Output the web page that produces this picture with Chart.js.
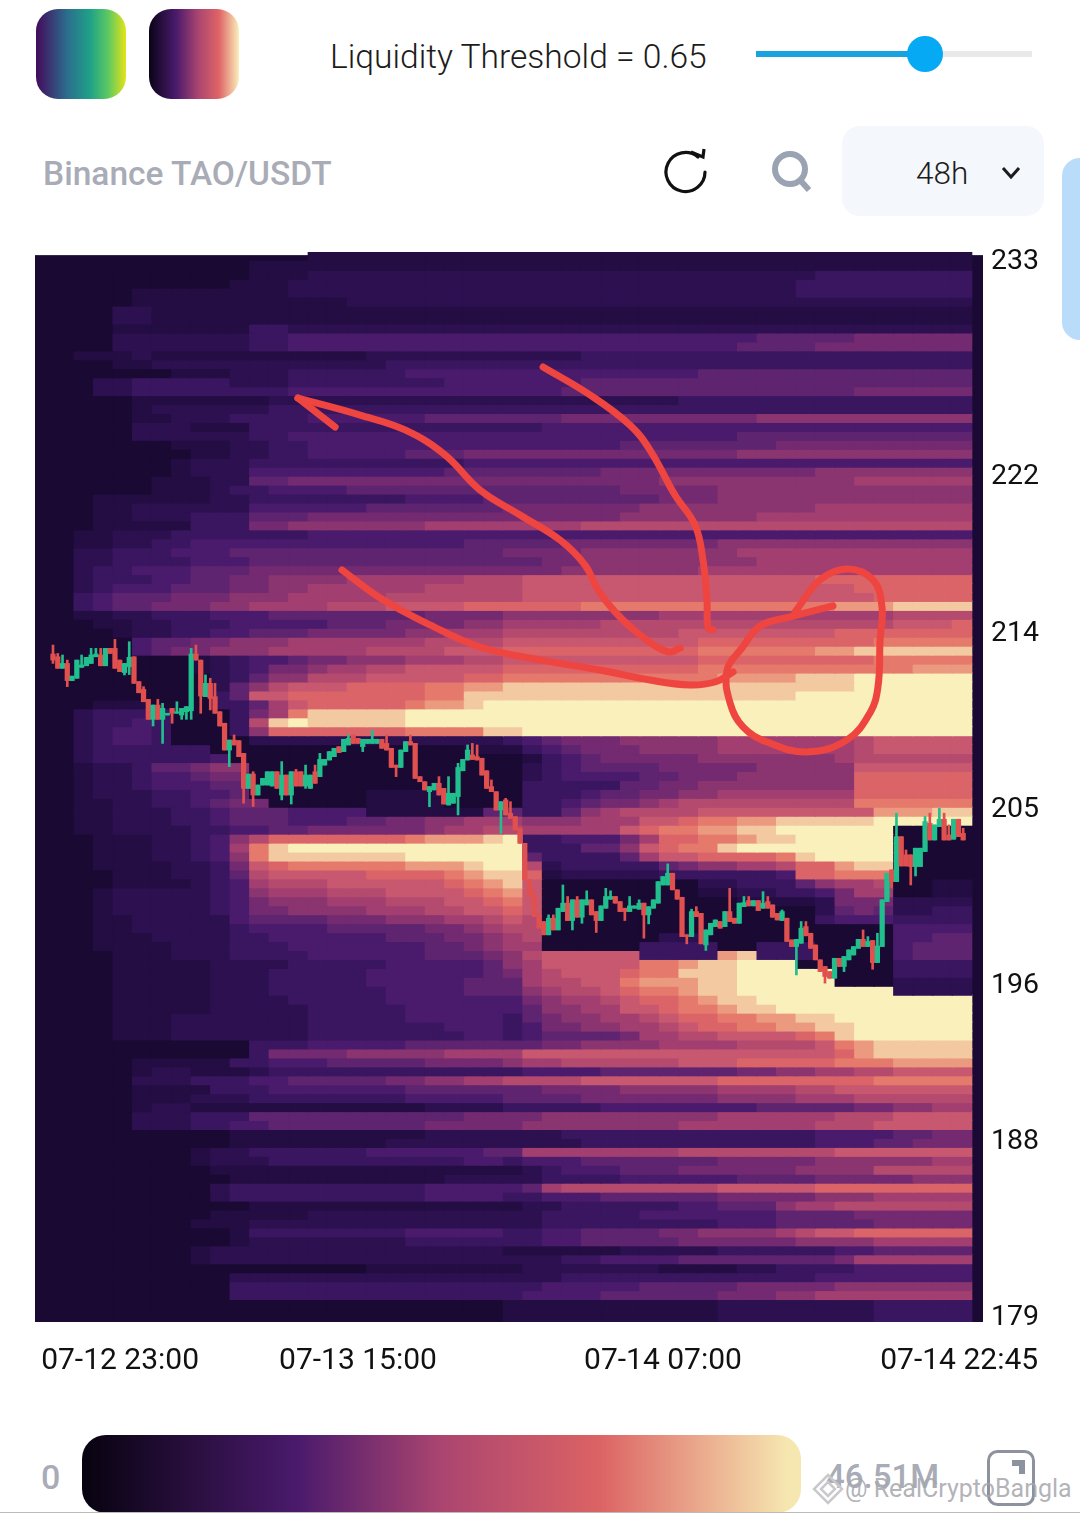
<!DOCTYPE html>
<html><head><meta charset="utf-8">
<script src="https://cdn.jsdelivr.net/npm/chart.js@4/dist/chart.umd.min.js"></script>
<style>
html,body{margin:0;padding:0;background:#fff;width:1080px;height:1513px;overflow:hidden;font-family:Roboto,sans-serif}
.a{position:absolute}
#wrap{position:absolute;left:0;top:240px;width:1080px;height:1160px}
</style></head><body>
<div class="a" style="left:36px;top:9px;width:90px;height:90px;border-radius:22px;background:linear-gradient(90deg,#440a5c,#2b6f8e 35%,#1fa187 60%,#5cc863 80%,#e3e418)"></div>
<div class="a" style="left:149px;top:9px;width:90px;height:90px;border-radius:22px;background:linear-gradient(90deg,#0a0418,#4a1a6c 30%,#ab4570 55%,#e06466 78%,#f9efba)"></div>
<div class="a" style="left:330px;top:37px;font-size:33.6px;line-height:40px;font-weight:300;color:#1c1c1c;white-space:nowrap">Liquidity Threshold = 0.65</div>
<div class="a" style="left:756px;top:51px;width:276px;height:6px;background:#e9e9e9"></div>
<div class="a" style="left:756px;top:51px;width:170px;height:6px;background:#18a3e0"></div>
<div class="a" style="left:907px;top:36px;width:36px;height:36px;border-radius:50%;background:#06a9f4"></div>
<div class="a" style="left:43px;top:154px;font-size:33.5px;line-height:40px;font-weight:500;color:#a9acb6;white-space:nowrap">Binance TAO/USDT</div>
<svg class="a" style="left:660px;top:146px" width="52" height="52" viewBox="0 0 52 52"><path d="M38 11 A19.5 19.5 0 1 0 45 26" fill="none" stroke="#111" stroke-width="3.2" stroke-linecap="round"/><path d="M31 6 L43 11 L44 3" fill="none" stroke="#111" stroke-width="3.2"/></svg>
<svg class="a" style="left:768px;top:148px" width="48" height="48" viewBox="0 0 48 48"><circle cx="22" cy="21" r="15" fill="none" stroke="#9aa3b2" stroke-width="6"/><path d="M32 32 L41 42" stroke="#9aa3b2" stroke-width="6"/></svg>
<div class="a" style="left:842px;top:126px;width:202px;height:90px;border-radius:18px;background:#f4f7fb"></div>
<div class="a" style="left:916px;top:154px;font-size:31.5px;line-height:40px;font-weight:300;color:#1c1c1c">48h</div>
<svg class="a" style="left:1000px;top:165px" width="22" height="16" viewBox="0 0 22 16"><path d="M3 3 L11 12 L19 3" fill="none" stroke="#1c1c1c" stroke-width="3"/></svg>
<div class="a" style="left:1062px;top:158px;width:18px;height:182px;border-radius:18px 0 0 18px;background:#b9dcfb"></div>
<div id="wrap"><canvas id="c" width="1080" height="1160" style="width:1080px;height:1160px"></canvas></div>
<div class="a" style="left:41px;top:1457px;font-size:34px;line-height:40px;font-weight:500;color:#a9acb6">0</div>
<div class="a" style="left:82px;top:1435px;width:719px;height:78px;border-radius:24px;background:linear-gradient(90deg,#07030f,#4a1a6c 30%,#ab4570 50%,#dc6364 72%,#f6e6b0 98%)"></div>
<div class="a" style="left:826px;top:1457px;font-size:33px;line-height:40px;font-weight:500;color:#a9acb6;white-space:nowrap">46.51M</div>
<svg class="a" style="left:986px;top:1449px" width="50" height="58" viewBox="0 0 50 58"><rect x="2.5" y="2.5" width="45" height="53" rx="9" fill="none" stroke="#8c929e" stroke-width="3"/><path d="M26 11 H39 V25 H33 V17 H26 Z" fill="#8c929e"/></svg>
<svg class="a" style="left:811px;top:1472px" width="34" height="34" viewBox="0 0 34 34"><path d="M17 3 L31 17 L17 31 L3 17 Z M17 10 L24 17 L17 24 L10 17 Z" fill="none" stroke="#c9c9cd" stroke-width="2.5"/></svg>
<div class="a" style="left:845px;top:1473px;font-size:25px;line-height:32px;color:rgba(165,165,172,.85);white-space:nowrap">@ RealCryptoBangla</div>
<div class="a" style="left:0;top:1512px;width:1080px;height:1px;background:#bbb"></div>
<script>
const yTicks=[233,222,214,205,196,188,179];
const xTickHours=[3.52,16,32,47.54];
const xTickLabels=['07-12 23:00','07-13 15:00','07-14 07:00','07-14 22:45'];
// liquidity level per price row (top to bottom) and hourly column; digit = 0..f of 46.51M, '.' = no cell
const heatRows=[
"........ ......11 11111111 11111111 11111111 11111111",
"00000000 00011111 11111111 11111111 11111111 11111111",
"00000000 00011122 22222222 22222222 22222222 33333333",
"00000000 00111222 22222222 22222222 22222223 33333333",
"00000111 11111222 22222222 22222222 22222223 33333333",
"00000111 11111111 22222222 22222222 22222222 22222222",
"00002211 11111111 11111111 11111111 11111111 11111111",
"00002211 11111111 11111111 11111111 11111111 11111111",
"00001111 11133222 22222222 22222222 22222222 22222222",
"00002222 22233444 44444444 44444444 44444555 55666666",
"00002222 22233444 44444444 44444444 44445555 66666666",
"00111211 11111111 12222222 22223333 33333333 33333333",
"00001122 22222222 22333333 33333333 33333333 33333333",
"00000001 11222333 33344444 44444444 44555555 55555555",
"00022333 33222333 33333444 44445555 55555555 55555555",
"00022333 33333444 44444444 44455555 55555555 55666666",
"00000111 11112222 22222222 22222222 23333333 33333333",
"00000122 22223333 33333333 33333333 33333333 33333333",
"00000112 22333344 44445555 55566666 66666777 77777777",
"00000222 11133333 33333333 33444444 44444444 44444444",
"00000222 22233444 44444444 44444444 44445555 55555555",
"00000001 11223344 44444444 44444455 55555566 66666666",
"00000000 11223344 44455566 66666666 66667777 77777777",
"00000001 22233333 33333344 44444444 44444444 44444444",
"00000001 22244444 44444555 55555666 66666666 77777777",
"00000011 12255666 66666666 66666666 77777777 77888888",
"00000011 12334444 55555555 55555566 66677777 77777777",
"00011111 12233333 33344445 55555555 66677777 77777777",
"00011222 22244444 45555555 66666667 77777777 88888888",
"00011222 33355566 66666666 66666677 77777888 88888888",
"00011111 33366777 77778888 88889999 99999999 99999999",
"00112223 33333344 44444444 44444444 44444444 44444444",
"00112233 44444444 44444455 55566666 66677777 77777777",
"00223334 44555555 55555555 66667777 77778888 88888888",
"00223333 44455555 55555555 55667777 77777888 88888888",
"00233444 55566666 66666666 66677777 77888888 88888888",
"00233344 55667777 88888899 9aaaaaaa aaaaaaaa bbbbbbbb",
"00234445 55667788 88889999 9aaaaaaa aaaaaaaa aabbbbbb",
"00345556 66777888 88999999 9aaaaaaa aaaaaaaa aaabbbbb",
"00345566 67788889 99aaaabb bbbbcccc cccccccc cdddeeee",
"00112233 34445555 55556666 77777777 88888888 88889999",
"00011223 33444445 55666677 88888999 99999999 9999aaab",
"00001223 34455566 66677888 99999999 9aaaaaaa abbbbbbb",
"00000455 66777888 88889999 aaaaaaaa aabbbbbb bbbccccc",
"00000456 67778888 89999aaa bbbbbbbb bbcccccc ddeeeeee",
"00000000 12344566 77788899 aaaaaaaa aabbbbbb bbbccccc",
"00000000 12346678 899aaaaa bbbbbbbb bbcccccc cccccddd",
"00000000 02357799 9aaaaabb cccccccc cccdddde eeffffff",
"00000000 02579aaa bbbbccdd eeeeeeee eeeeeeee eeffffff",
"00000000 035aabbb bbbbccee eeeeeeee eeeeeeef ffffffff",
"00011100 03358abb bbbcddef ffffffff ffffffff ffffffff",
"00233330 00368cee eeefffff ffffffff ffffffff ffffffff",
"00233430 0039efee eeefffff ffffffff ffffffff ffffffff",
"00234430 0037bbbb bbbcccce efffffff ffffffff ffffffff",
"00234430 00022222 22222222 34566677 77788888 889aaaaa",
"00233333 30000000 00000011 13456667 77788888 889aaaaa",
"00233333 34000000 00000000 01345666 66777777 78999999",
"00122355 67700000 00000000 02345555 66666777 77aaaaaa",
"00122344 56600000 00000000 02344445 56667777 77bbbbbb",
"00122344 45500000 00000000 03333355 66777777 77bbbbbb",
"00122233 44500000 01111000 03334556 67788888 88bbbbbb",
"00112233 45660000 01111000 03345667 89999999 99cccccc",
"00112223 34555444 41111115 53357899 99aaaaaa aaadddee",
"00112223 34555444 55667788 8777888a abccddee eeefffff",
"00112222 33445566 66667889 988888ab ccddeeff ffff0000",
"00011122 3479bbbb bbbcddde f3344468 bbccdeef ffff0000",
"00011122 348cefff ffffffff f333557a bcceffff ffff0000",
"00011122 347ceeee eeefffff f5333358 aabbbbce ffff0000",
"00011112 236abccc cccdddef f9233333 5677889b bdee0000",
"00001112 2359aaaa abbbbcde eb122222 3333334b bccc0000",
"00001111 2348999a aaaaabcd ea000000 00223335 78890011",
"00012222 23478889 99aaaabc da000000 00112233 46880011",
"00012222 23467778 88999aab ca000000 00001111 26662222",
"00012222 23466777 78889 9aa ba000000 00000000 25652233",
"00011222 22455556 66777889 a9000000 00000000 34443333",
"00011222 22344445 55556678 99000000 00000000 00004444",
"00011122 22334444 44555667 89000000 22000000 00004455",
"00011112 22333444 44445567 88000003 33300333 00004555",
"00001112 22333344 44445556 79aaaaa3 333de333 00004555",
"00001111 12222333 33444445 78aaaaac cdeefff0 00003333",
"00001111 12223333 34444445 689aaabc ceeeffff f0003333",
"00001111 12223333 34444455 5899aacd ddeeffff f0002222",
"00001111 12223333 33444455 5789 9abc cdeeffff ffff2222",
"00001111 12222333 33444444 46788 9ab bcdeefff ffffffff",
"00001111 12222233 33344444 45778 8aa bccdeeff ffffffff",
"00001112 22222233 33344444 35677889 abbccdde efffffff",
"00001112 22222233 33333444 34667788 9abbccdd eeffffff",
"00001112 22222233 33333344 34555568 899aaaab ceffffff",
"00000000 00033344 44455555 55667777 88889999 acdeeeee",
"00000000 00036666 77777888 8aaaaaaa aaaaaaaa abdeeeee",
"00000111 11334445 55556666 78899999 9aaabbbb bcccdddd",
"00000122 11123333 33333333 34444555 55556677 8899aaaa",
"00000222 33344555 55667788 9999aaaa aaabbbbb bbbccccc",
"00000111 13334444 44455555 55666677 77788889 9aaaaaaa",
"00000111 22233333 33344444 55556666 66677778 88999999",
"00000122 11111111 11112222 33333444 44444555 55667788",
"00000222 33355555 55555566 66777777 77788888 8999aaaa",
"00000222 33445555 55556666 67777777 78888888 999aaaaa",
"00000000 00111111 11112222 22233333 33333333 44445566",
"00000000 00111111 11222222 22223333 33333333 44455666",
"00000000 12233333 34444445 58888888 89999999 9aaaaaaa",
"00000000 12223333 33333344 34445555 55566666 77777788",
"00000000 01111111 11111111 12344455 56666667 77799999",
"00000000 00111111 11111222 22333344 44445555 66666777",
"00000000 02333333 33334444 45899999 999aaaaa bbbbbbbb",
"00000000 02333333 33334444 33444555 55566666 77788888",
"00000000 00011111 11111111 12233333 34455578 89999999",
"00000000 01111122 22222222 22333334 44444455 55666666",
"00000000 11122222 22222222 22333333 33344455 55566666",
"00000000 00133333 33344444 33445555 66777789 aabbbbbb",
"00000000 00122222 22233333 33445555 56666667 77788888",
"00000000 12222222 22222222 11111122 22233333 34455555",
"00000000 12222222 22222222 22233444 45555555 56888888",
"00000000 00000000 01111111 12222222 11112233 33444444",
"00000000 00222222 22222222 22233333 33333333 44444444",
"00000000 00333333 33333333 33444445 55556666 67777777",
"00000000 00333333 33333333 34444555 55566677 88888888",
"00000000 00000000 00000000 11111111 11122222 22233333",
"00000000 00000000 00000000 11111111 11122222 22233333",
"00000000 00000000 00000000 11111111 11122222 22233333"
];
const palette=['#1a0a33','#230d42','#2c1050','#3a1660','#4a1b6c','#5f2470','#742a70','#8a3470','#a23f70','#b54a6f','#c75870','#db6468','#e57a6c','#eb9a7f','#f2c9a0','#faf0bb'];
const opens=[212.85,212.71,212.12,212.37,211.49,211.61,212.17,212.25,212.37,212.71,212.80,212.25,213.14,213.14,212.54,211.90,212.20,212.71,211.44,211.04,210.53,209.51,210.24,209.51,209.73,210.07,209.82,209.73,209.90,209.95,212.85,212.54,210.67,211.35,210.67,209.90,209.31,207.94,208.45,208.42,207.77,205.98,206.71,205.64,206.15,206.15,206.10,206.83,205.64,206.66,205.64,206.83,206.83,206.10,205.98,206.83,206.58,207.17,207.43,207.60,208.11,207.86,208.20,208.71,208.54,208.11,208.28,208.28,208.28,208.49,208.28,208.03,207.17,207.05,207.86,208.37,208.28,206.58,206.32,205.81,205.90,206.24,205.98,205.13,205.22,205.56,206.88,207.43,207.69,207.60,207.52,206.88,206.07,205.81,204.87,205.39,204.70,204.53,203.94,203.17,201.30,200.44,199.51,199.17,198.49,199.34,198.74,199.68,200.11,199.22,200.28,199.39,200.02,200.28,199.68,199.22,199.85,200.31,200.45,200.19,199.85,199.68,199.85,199.80,200.11,199.51,199.85,200.11,201.04,201.04,201.64,200.79,200.41,198.49,198.40,199.68,199.59,197.97,198.49,198.91,199.17,198.91,199.68,199.34,199.08,199.93,200.24,199.97,200.24,199.85,200.19,200.02,199.59,199.22,199.34,198.23,197.89,198.06,198.91,198.57,197.97,197.21,196.87,196.61,196.27,197.29,196.87,197.21,197.46,197.80,198.26,197.89,198.20,197.07,197.89,200.19,201.81,201.21,203.51,202.58,202.58,201.98,201.98,202.75,204.19,203.34,204.02,204.40,203.60,203.38,204.40,203.68];
const closes=[212.54,212.12,212.37,211.49,211.72,212.54,212.29,212.68,212.80,212.85,212.25,213.14,212.88,212.12,211.95,212.37,212.68,211.35,210.87,210.41,209.51,210.24,209.51,210.07,209.82,209.82,209.90,210.07,210.16,212.85,212.54,210.70,211.35,210.58,209.82,209.17,207.94,208.45,208.20,207.60,205.98,206.71,205.64,206.15,206.49,206.83,206.83,205.98,206.66,205.64,206.83,206.10,206.10,206.66,206.66,206.24,207.46,207.46,207.86,208.03,207.81,208.49,208.54,208.28,208.28,208.49,208.49,208.49,208.49,208.03,207.94,207.05,207.05,207.94,208.37,208.20,206.49,206.32,205.90,206.07,206.24,205.64,205.18,205.73,205.73,207.05,207.46,207.94,207.46,207.43,206.66,205.98,205.81,204.87,205.30,204.62,204.45,203.85,203.17,201.30,200.44,199.42,198.83,198.49,199.34,198.74,199.85,200.11,199.22,200.28,199.39,200.28,200.28,199.51,199.22,199.97,200.45,200.45,200.11,199.68,199.68,199.97,199.97,200.11,199.51,199.93,200.28,201.21,201.47,201.64,200.79,200.31,198.40,198.40,199.68,199.42,198.03,198.74,199.08,199.25,198.83,199.68,199.17,199.08,200.11,200.14,199.97,200.24,199.73,200.11,199.85,199.39,199.25,199.68,198.15,197.89,198.26,198.83,198.44,197.80,197.21,196.61,196.36,196.27,197.29,196.87,197.38,197.72,197.89,198.26,197.89,198.15,197.07,197.92,200.28,201.64,201.21,203.51,202.01,202.01,201.98,202.92,202.92,204.28,203.34,204.11,204.40,203.34,203.34,204.40,203.51,203.34];
const highs=[213.31,212.88,212.80,212.54,211.72,212.54,212.80,212.68,213.14,213.14,213.14,213.14,213.14,213.60,212.54,212.37,213.48,212.71,211.44,211.18,210.53,210.24,210.53,210.33,209.82,210.07,210.41,210.07,210.16,213.14,213.31,212.54,211.78,211.61,211.35,209.90,209.31,208.45,208.71,208.42,207.77,206.71,206.83,206.15,206.49,206.83,206.83,206.83,207.35,206.66,206.83,206.95,206.83,207.17,206.66,207.17,207.77,207.46,207.86,208.03,208.11,208.49,208.71,208.71,208.54,208.49,208.49,208.96,208.49,208.49,208.71,208.03,207.17,207.94,208.37,208.71,208.28,206.58,206.32,206.07,206.24,206.58,205.98,206.58,205.73,207.26,207.46,208.20,208.28,208.20,207.52,206.88,206.41,205.81,205.30,205.47,205.30,204.53,203.94,203.17,201.30,200.78,199.51,199.17,199.51,199.51,199.85,201.04,200.45,200.28,200.45,200.28,200.74,200.28,199.68,199.97,200.87,200.74,200.45,200.19,199.85,200.45,199.97,200.28,200.11,199.93,200.28,201.21,201.47,202.12,201.64,200.79,200.41,198.49,199.80,199.93,199.59,198.74,199.08,199.25,199.17,199.68,200.87,199.34,200.11,200.45,200.45,200.24,200.24,200.70,200.45,200.02,199.59,199.76,199.34,198.23,198.26,199.17,199.17,198.57,197.97,197.21,196.87,196.61,197.29,197.29,197.38,197.72,197.89,198.26,198.74,198.40,198.20,198.57,200.28,201.64,201.81,204.71,203.51,202.83,202.58,202.92,202.92,204.54,204.71,204.11,204.96,204.71,204.11,204.40,204.40,203.94];
const lows=[212.37,212.12,212.12,211.18,211.49,211.61,212.17,212.25,212.37,212.71,212.25,212.25,212.88,212.12,211.95,211.78,211.80,211.35,210.87,210.41,209.51,209.17,209.51,208.28,209.73,209.31,209.82,209.51,209.51,209.51,212.54,209.82,210.67,209.99,209.82,209.17,207.94,207.09,208.20,207.60,205.22,205.98,205.05,205.64,206.15,206.15,206.10,205.98,205.39,205.64,205.18,206.10,206.10,205.98,205.98,206.24,206.58,207.17,207.43,207.60,207.81,207.86,208.20,208.28,208.28,207.86,208.28,208.28,208.28,208.03,207.94,207.05,206.58,207.05,207.86,208.20,206.49,206.32,205.90,205.04,205.90,205.64,205.18,205.13,205.22,204.62,206.88,207.43,207.46,207.43,206.66,205.98,205.81,204.87,203.68,204.62,204.45,203.85,203.17,201.30,200.44,199.42,198.83,198.49,198.49,198.74,198.74,199.68,199.22,198.74,199.39,199.08,200.02,199.51,198.61,199.22,199.85,200.31,200.11,199.68,199.22,199.68,199.85,199.80,198.32,199.05,199.85,200.11,201.04,201.04,200.79,200.31,198.40,198.03,198.40,199.42,198.03,197.69,198.49,198.91,198.83,198.91,199.17,199.08,199.08,199.93,199.97,199.97,199.73,199.85,199.85,199.39,199.25,199.22,198.15,197.89,196.44,198.06,198.44,197.80,197.21,196.61,196.02,196.27,196.27,196.87,196.61,197.21,197.46,197.80,197.89,197.89,196.73,197.07,197.89,200.19,200.92,201.21,202.01,202.01,201.04,201.50,201.98,202.75,203.34,203.34,204.02,203.34,203.34,203.38,203.51,203.34];
// hand-drawn red marks on top of the chart, [hours, price]
const strokeA=[[15.16,217.15],[17.16,215.72],[19.78,214.34],[22.40,213.21],[25.55,212.55],[28.70,212.03],[31.32,211.52],[33.42,211.27],[34.73,211.42],[35.68,211.93]];
const strokeB=[[32.90,213.16],[32.27,212.96],[30.80,213.82],[29.49,215.00],[28.59,216.13],[27.91,217.40],[26.60,218.68],[24.50,219.96],[22.40,221.24],[20.57,223.03],[18.47,224.31],[16.11,225.07],[12.85,225.94]];
const strokeBHead=[[12.85,225.94],[14.80,224.46]];
const strokeC=[[25.71,227.53],[28.17,226.10],[30.27,224.56],[31.32,223.28],[32.63,220.98],[33.68,219.45],[34.10,217.66],[34.31,215.61],[34.37,214.18],[34.63,214.08]];
const strokeD=[[40.92,215.31],[38.67,214.75],[37.09,214.28],[36.15,213.16],[35.36,212.03],[35.52,210.35],[36.20,209.12],[37.46,208.35],[39.56,207.84],[41.66,208.46],[42.86,209.84],[43.28,211.17],[43.39,213.57],[43.49,215.26],[43.02,216.64],[41.66,217.20],[40.24,216.64],[38.93,215.0]];

const Y_MAX=233.41,Y_MIN=178.69,X_MIN=-0.944,X_MAX=48.79,HEAT_END=48.2,TOP_EDGE=233.25;
const rowStep=0.4577,colStep=(HEAT_END-X_MIN)/48,up='#20bf8d',down='#e0504f';
const datasets=[];
[strokeA,strokeB,strokeBHead,strokeC,strokeD].forEach(s=>datasets.push({type:'scatter',showLine:true,order:0,data:s.map(p=>({x:p[0],y:p[1]})),borderColor:'#ee4540',backgroundColor:'#ee4540',borderWidth:7,tension:0.4,pointRadius:0,borderCapStyle:'round',borderJoinStyle:'round'}));
const candleX=opens.map((_,i)=>i*0.25);
datasets.push({order:1,grouped:false,barThickness:4.6,data:candleX.map((x,i)=>({x,y:[opens[i],closes[i]]})),backgroundColor:opens.map((o,i)=>closes[i]>=o?up:down)});
datasets.push({order:2,grouped:false,barThickness:2,data:candleX.map((x,i)=>({x,y:[lows[i],highs[i]]})),backgroundColor:opens.map((o,i)=>closes[i]>=o?up:down)});
heatRows.forEach((row,r)=>{
  const cells=row.replace(/ /g,'').split('');
  const hi=Y_MAX-r*rowStep,lo=hi-rowStep;
  const data=[],colors=[];
  cells.forEach((ch,c)=>{ if(ch==='.')return;
    data.push({x:X_MIN+(c+0.5)*colStep,y:[lo-0.03,hi]});
    colors.push(palette[parseInt(ch,16)]);
  });
  datasets.push({order:3,grouped:false,barThickness:20,data,backgroundColor:colors});
});
const plotBg={id:'plotBg',beforeDatasetsDraw(ch){
  const {ctx,chartArea:a,scales:{y}}=ch;const t=y.getPixelForValue(TOP_EDGE);
  ctx.save();ctx.fillStyle='#1a0a33';ctx.fillRect(a.left,t,a.right-a.left,a.bottom-t);ctx.restore();
}};
new Chart(document.getElementById('c'),{
  type:'bar',
  data:{datasets},
  plugins:[plotBg],
  options:{
    responsive:false,animation:false,events:[],
    layout:{autoPadding:false,padding:{left:35,top:12,right:0,bottom:0}},
    plugins:{legend:{display:false},tooltip:{enabled:false}},
    scales:{
      x:{type:'linear',offset:false,min:X_MIN,max:X_MAX,grid:{display:false,drawTicks:false},border:{display:false},
        afterBuildTicks(s){s.ticks=xTickHours.map(v=>({value:v}));},
        afterFit(s){s.height=78;s.paddingLeft=0;s.paddingRight=0;},
        ticks:{autoSkip:false,maxRotation:0,minRotation:0,padding:21,color:'#111',font:{family:'Roboto',size:30},
          callback:v=>xTickLabels[xTickHours.indexOf(v)]}},
      y:{type:'linear',position:'right',min:Y_MIN,max:Y_MAX,grid:{display:false,drawTicks:false},border:{display:false},
        afterBuildTicks(s){s.ticks=yTicks.map(v=>({value:v}));},
        afterFit(s){s.width=97;s.paddingTop=0;s.paddingBottom=0;},
        ticks:{autoSkip:false,padding:8,labelOffset:2,color:'#111',font:{family:'Roboto',size:28.5},callback:v=>String(v)}}
    }
  }
});
</script>
</body></html>
